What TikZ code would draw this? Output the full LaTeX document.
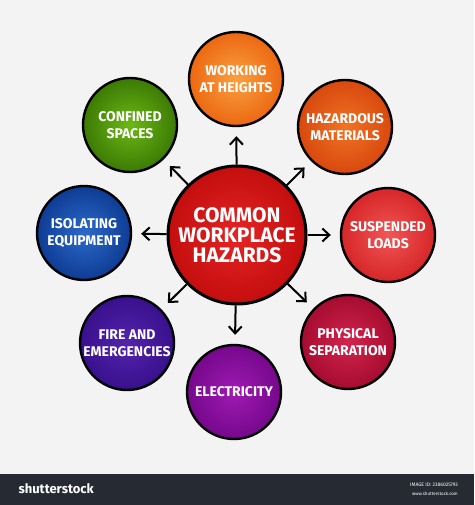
\documentclass[tikz,border=0pt]{standalone}
\usepackage{fontspec}
\setmainfont{Fira Sans}
\usetikzlibrary{arrows.meta}

\definecolor{bgpage}{HTML}{F3F3F3}
\definecolor{bar}{HTML}{262B33}

\begin{document}
\begin{tikzpicture}[x=1pt, y=-1pt,
  topic/.style={circle, draw=black, line width=2.4pt, minimum size=94pt, inner sep=0pt,
    align=center, text=white, font=\bfseries\fontsize{14}{17}\selectfont},
  hubnode/.style={topic, line width=3pt, minimum size=138pt, font=\bfseries\fontsize{21}{20}\selectfont},
  spoke/.style={-{Straight Barb[length=7pt,width=13pt]}, line width=2pt, shorten >=9pt}]
\useasboundingbox (0,0) rectangle (474,505);
\fill[bgpage] (0,0) rectangle (474,474);
\fill[bar] (0,474) rectangle (474,505);

\node[hubnode, inner color={rgb,255:red,228;green,36;blue,36}, outer color={rgb,255:red,196;green,14;blue,14}] (c) at (237,235) {COMMON\\WORKPLACE\\HAZARDS};

\node[topic, inner color={rgb,255:red,250;green,160;blue,64}, outer color={rgb,255:red,236;green,104;blue,18}] (t1) at (236,79) {WORKING\\AT HEIGHTS};
\node[topic, inner color={rgb,255:red,240;green,116;blue,36}, outer color={rgb,255:red,216;green,72;blue,14}] (t2) at (345,127) {HAZARDOUS\\MATERIALS};
\node[topic, inner color={rgb,255:red,242;green,86;blue,86}, outer color={rgb,255:red,214;green,38;blue,40}] (t3) at (388,235) {SUSPENDED\\LOADS};
\node[topic, inner color={rgb,255:red,210;green,36;blue,78}, outer color={rgb,255:red,166;green,12;blue,48}] (t4) at (348,342) {PHYSICAL\\SEPARATION};
\node[topic, inner color={rgb,255:red,158;green,26;blue,178}, outer color={rgb,255:red,118;green,8;blue,140}] (t5) at (234,392) {ELECTRICITY};
\node[topic, inner color={rgb,255:red,84;green,36;blue,172}, outer color={rgb,255:red,56;green,16;blue,140}] (t6) at (127,343) {FIRE AND\\EMERGENCIES};
\node[topic, inner color={rgb,255:red,44;green,106;blue,202}, outer color={rgb,255:red,14;green,60;blue,148}] (t7) at (84,233) {ISOLATING\\EQUIPMENT};
\node[topic, inner color={rgb,255:red,108;green,184;blue,22}, outer color={rgb,255:red,60;green,122;blue,4}] (t8) at (130,125) {CONFINED\\SPACES};

\draw[spoke] (c) -- (t1);
\draw[spoke] (c) -- (t2);
\draw[spoke] (c) -- (t3);
\draw[spoke] (c) -- (t4);
\draw[spoke] (c) -- (t5);
\draw[spoke] (c) -- (t6);
\draw[spoke] (c) -- (t7);
\draw[spoke] (c) -- (t8);

\node[anchor=west, text=white, font=\bfseries\fontsize{13}{13}\selectfont] (logo) at (15,489) {shutterstock};
\node[anchor=east, text=white, inner sep=0pt, font=\fontsize{5}{5}\selectfont] (imgid) at (458,485) {IMAGE ID: 2386025793};
\node[anchor=east, text=white, inner sep=0pt, font=\fontsize{4.5}{4.5}\selectfont] (site) at (458,494) {www.shutterstock.com};
\end{tikzpicture}
\end{document}
